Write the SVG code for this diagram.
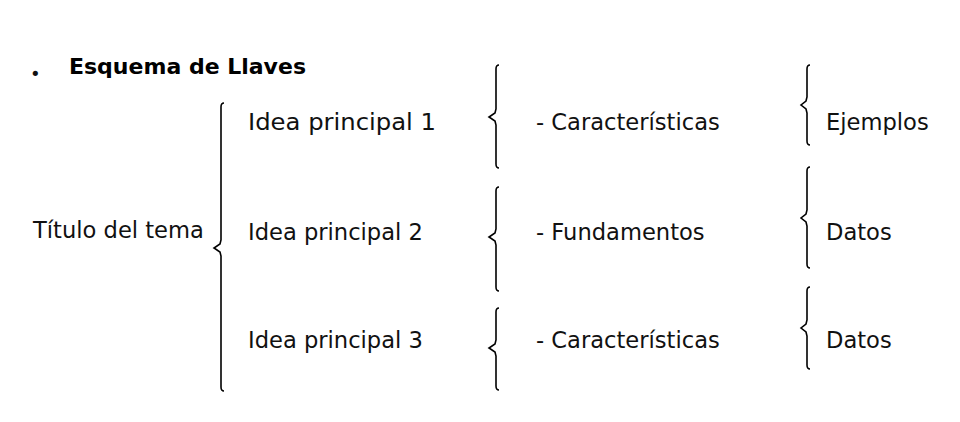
<svg xmlns="http://www.w3.org/2000/svg" width="960" height="422" viewBox="0 0 960 422">
<style>
.t{font-family:"DejaVu Sans","Verdana",sans-serif;font-size:22.6px;fill:#111}
.b{font-family:"DejaVu Sans","Verdana",sans-serif;font-size:22px;font-weight:bold;fill:#000}
.br{fill:none;stroke:#000;stroke-width:1.6;stroke-linejoin:miter}
</style>
<rect width="960" height="422" fill="#fff"/>
<g id="heading">
<text class="t" x="30" y="80" style="font-size:18px">•</text>
<text class="b" x="69" y="74">Esquema de Llaves</text>
</g>
<g id="titulo"><text class="t" x="33" y="238">Título del tema</text></g>
<g id="idea1"><text class="t" x="248" y="130" textLength="188" lengthAdjust="spacingAndGlyphs">Idea principal 1</text></g>
<g id="idea2"><text class="t" x="248" y="240">Idea principal 2</text></g>
<g id="idea3"><text class="t" x="248" y="348">Idea principal 3</text></g>
<g id="caract1"><text class="t" x="536" y="130">- Características</text></g>
<g id="fund"><text class="t" x="536" y="240">- Fundamentos</text></g>
<g id="caract3"><text class="t" x="536" y="348">- Características</text></g>
<g id="ejemplos"><text class="t" x="826" y="130">Ejemplos</text></g>
<g id="datos2"><text class="t" x="826" y="240">Datos</text></g>
<g id="datos3"><text class="t" x="826" y="348">Datos</text></g>
<g id="connectors">
<path class="br" d="M224,103 Q221,103 221,107 L221,240 L220,244 L214,248 L220,252 L221,256 L221,387 Q221,391 224,391"/>
<path class="br" d="M499,65 Q496,65 496,69 L496,109 L495,113 L489,117 L495,121 L496,125 L496,164 Q496,168 499,168"/>
<path class="br" d="M499,187 Q496,187 496,191 L496,229 L495,233 L489,237 L495,241 L496,245 L496,287 Q496,291 499,291"/>
<path class="br" d="M499,308 Q496,308 496,312 L496,340 L495,344 L489,348 L495,352 L496,356 L496,386 Q496,390 499,390"/>
<path class="br" d="M810,65 Q807,65 807,69 L807,97 L806,101 L801,105 L806,109 L807,113 L807,141 Q807,145 810,145"/>
<path class="br" d="M810,167 Q807,167 807,171 L807,210 L806,214 L801,218 L806,222 L807,226 L807,264 Q807,268 810,268"/>
<path class="br" d="M810,287 Q807,287 807,291 L807,320 L806,324 L801,328 L806,332 L807,336 L807,365 Q807,369 810,369"/>
</g>
</svg>
